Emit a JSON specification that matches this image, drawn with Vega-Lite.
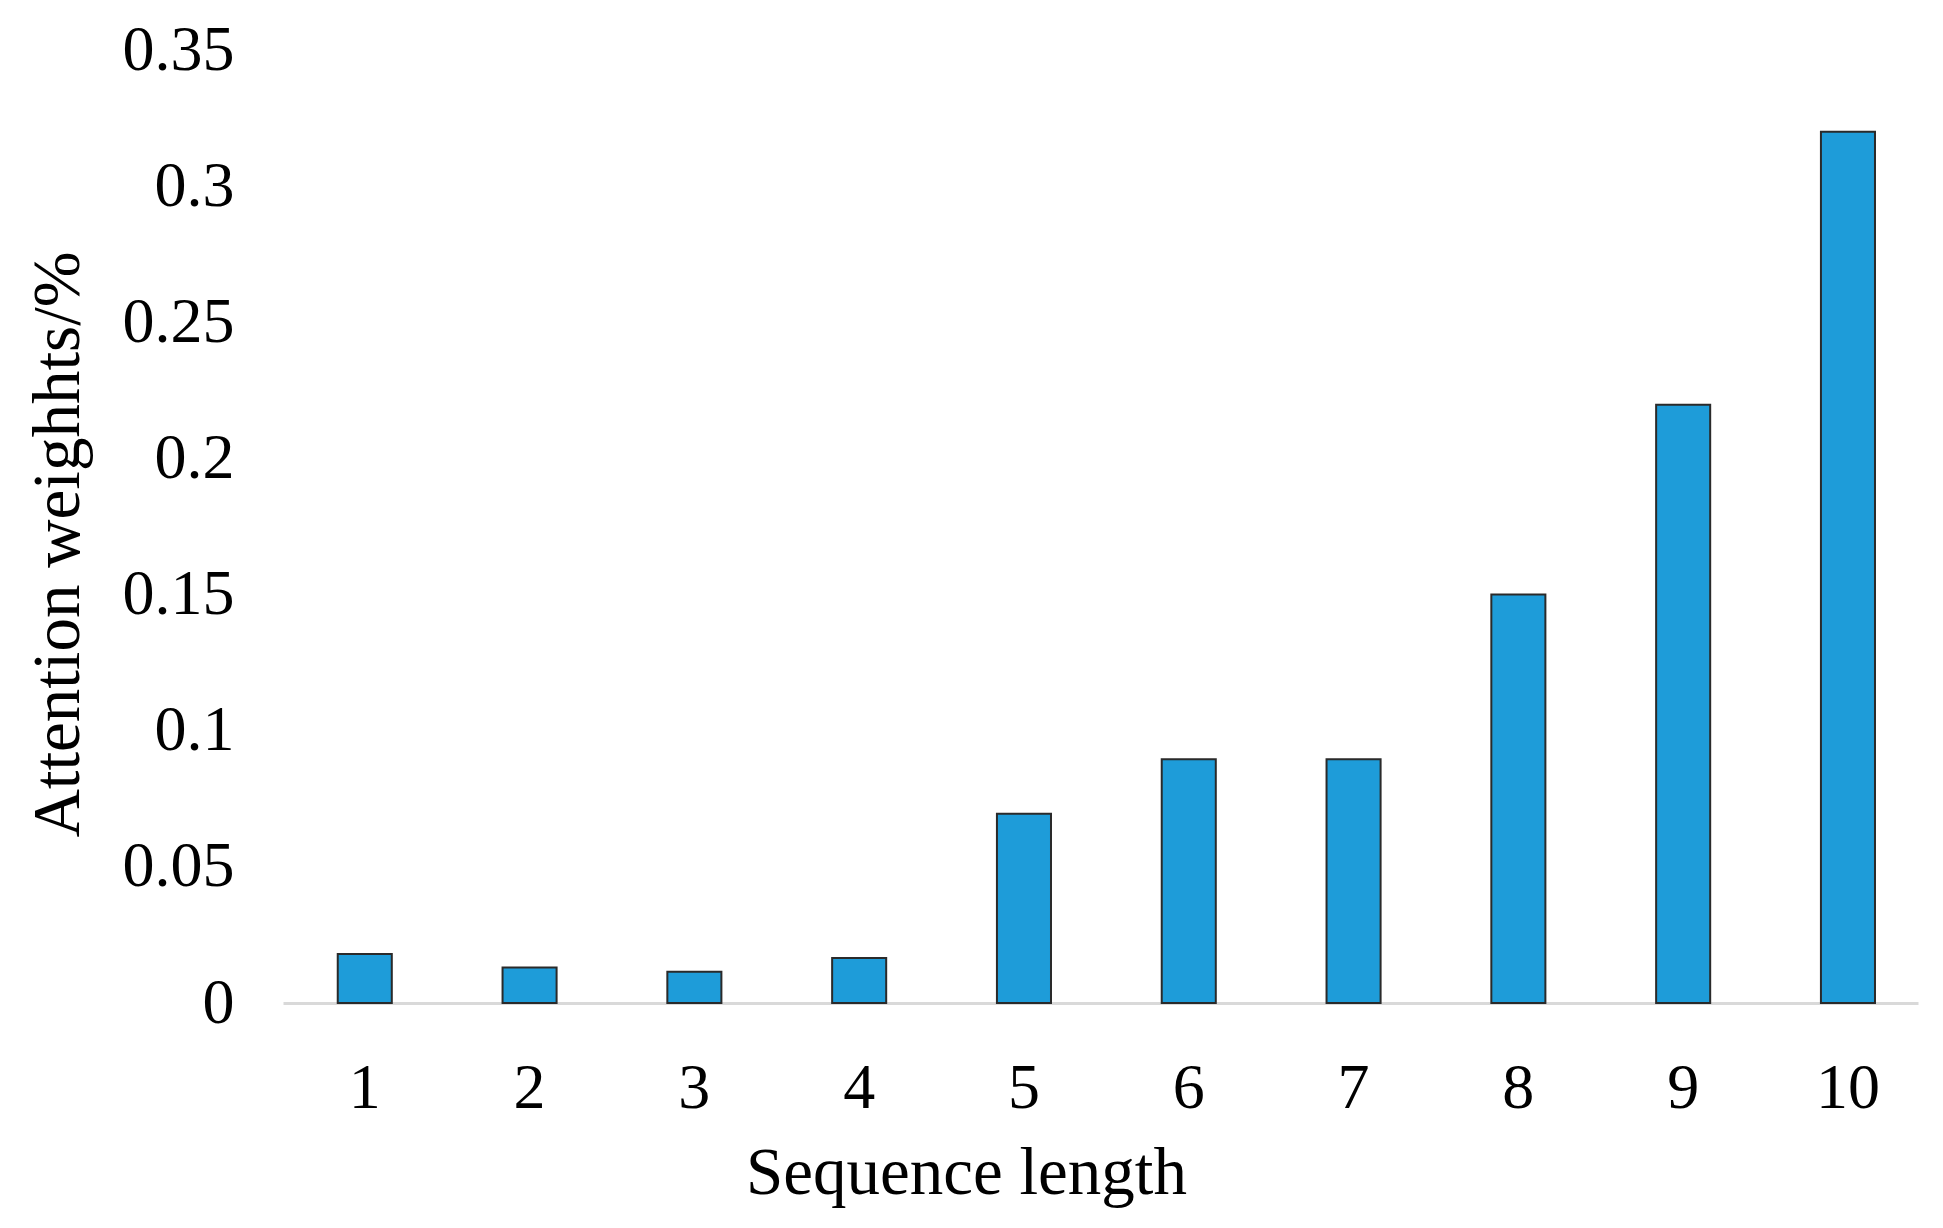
{
  "$schema": "https://vega.github.io/schema/vega-lite/v6.json",
  "width": 1635,
  "height": 953,
  "autosize": {"type": "none"},
  "padding": {"left": 283, "top": 50, "right": 25, "bottom": 225},
  "background": "white",
  "config": {"view": {"stroke": null}, "font": "Liberation Serif"},
  "data": {
    "values": [
      {"len": "1", "w": 0.018},
      {"len": "2", "w": 0.013},
      {"len": "3", "w": 0.0115},
      {"len": "4", "w": 0.0165},
      {"len": "5", "w": 0.0695},
      {"len": "6", "w": 0.0895},
      {"len": "7", "w": 0.0895},
      {"len": "8", "w": 0.150},
      {"len": "9", "w": 0.2197},
      {"len": "10", "w": 0.320}
    ]
  },
  "mark": {"type": "bar", "color": "#1e9cd9", "stroke": "#2a2a2a", "strokeWidth": 2},
  "encoding": {
    "x": {
      "field": "len",
      "type": "ordinal",
      "sort": null,
      "scale": {"paddingInner": 0.672, "paddingOuter": 0.2966, "align": 0.56},
      "axis": {
        "title": "Sequence length",
        "labelAngle": 0,
        "labelFont": "Liberation Serif",
        "labelFontSize": 64,
        "labelColor": "#000000",
        "labelBaseline": "alphabetic",
        "labelPadding": 104,
        "ticks": false,
        "tickSize": 0,
        "domainColor": "#d9d9d9",
        "domainWidth": 3,
        "titleFont": "Liberation Serif",
        "titleFontSize": 67,
        "titleFontWeight": "normal",
        "titleColor": "#000000",
        "titleBaseline": "alphabetic",
        "titleX": 683,
        "titleY": 190,
        "titleAnchor": "middle",
        "titleAlign": "center"
      }
    },
    "y": {
      "field": "w",
      "type": "quantitative",
      "scale": {"domain": [0, 0.35], "nice": false},
      "axis": {
        "title": "Attention weighhts/%",
        "values": [0, 0.05, 0.1, 0.15, 0.2, 0.25, 0.3, 0.35],
        "labelExpr": "datum.value == 0 ? '0' : format(datum.value, '.2~f')",
        "labelFont": "Liberation Serif",
        "labelFontSize": 64,
        "labelColor": "#000000",
        "labelPadding": 49,
        "ticks": false,
        "tickSize": 0,
        "domain": false,
        "grid": false,
        "titleFont": "Liberation Serif",
        "titleFontSize": 67,
        "titleFontWeight": "normal",
        "titleColor": "#000000",
        "titleBaseline": "alphabetic",
        "titleAngle": 270,
        "titleX": -205,
        "titleY": 494,
        "titleAlign": "center"
      }
    }
  }
}
